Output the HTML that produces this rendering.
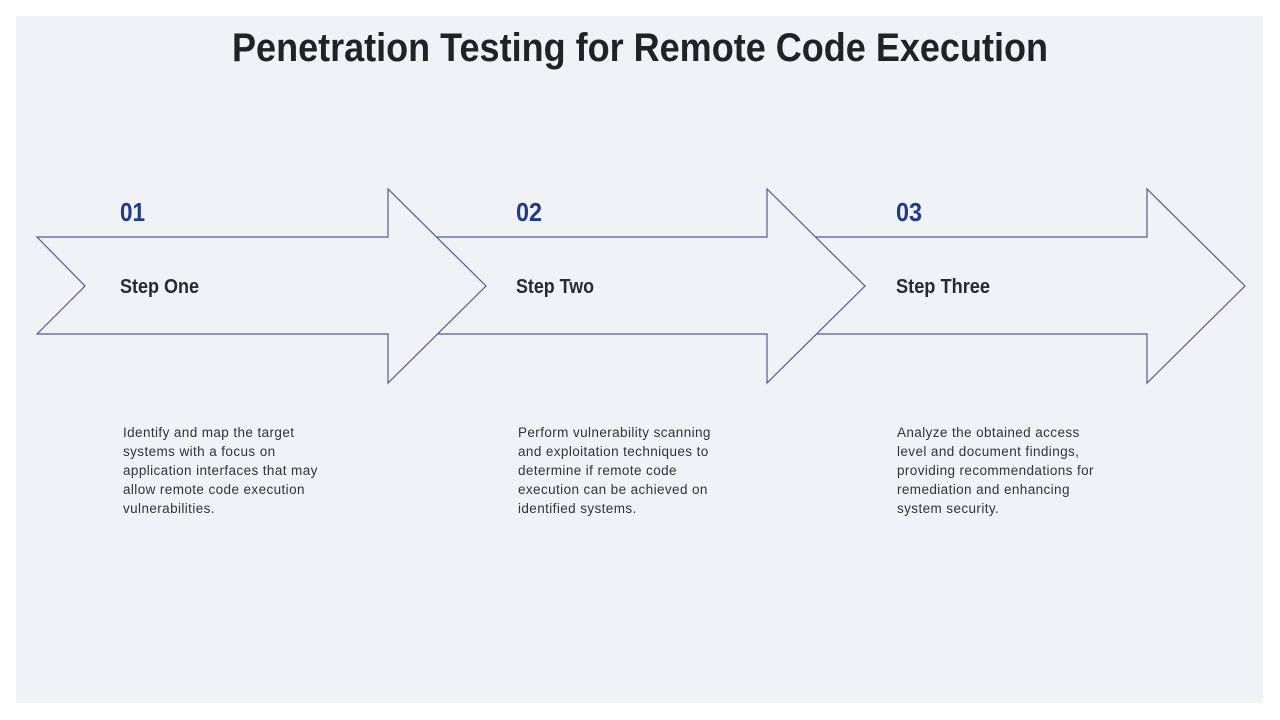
<!DOCTYPE html>
<html><head><meta charset="utf-8"><style>
html,body{margin:0;padding:0;background:#fff;}
svg{display:block;}
.n{font-family:"Liberation Sans Narrow","Liberation Sans",sans-serif;font-weight:bold;}
.b{font-family:"Liberation Sans",sans-serif;font-size:13.5px;fill:#333;letter-spacing:0.4px;}
</style></head><body>
<svg width="1280" height="720" viewBox="0 0 1280 720" xmlns="http://www.w3.org/2000/svg">
<rect x="0" y="0" width="1280" height="720" fill="#fff"/>
<rect x="16" y="16" width="1247" height="687" fill="#f0f2f6"/>
<text class="n" x="640" y="61" text-anchor="middle" font-size="40" fill="#222" textLength="816" lengthAdjust="spacingAndGlyphs">Penetration Testing for Remote Code Execution</text>
<g fill="#f0f2f6" stroke="#4d5c9c" stroke-width="1.2">
<polygon points="796,237 1147,237 1147,189 1245,286 1147,383 1147,334 796,334 844,286"/>
<polygon points="416,237 767,237 767,189 865,286 767,383 767,334 416,334 464,286"/>
<polygon points="37,237 388,237 388,189 486,286 388,383 388,334 37,334 85,286"/>
</g>
<g class="n" font-size="26" fill="#1f3a8a">
<text x="120" y="221" textLength="25" lengthAdjust="spacingAndGlyphs">01</text>
<text x="516" y="221" textLength="26" lengthAdjust="spacingAndGlyphs">02</text>
<text x="896" y="221" textLength="26" lengthAdjust="spacingAndGlyphs">03</text>
</g>
<g class="n" font-size="20" fill="#2a2a2e">
<text x="120" y="293" textLength="79" lengthAdjust="spacingAndGlyphs">Step One</text>
<text x="516" y="293" textLength="78" lengthAdjust="spacingAndGlyphs">Step Two</text>
<text x="896" y="293" textLength="94" lengthAdjust="spacingAndGlyphs">Step Three</text>
</g>
<g class="b">
<text x="123" y="437">Identify and map the target</text>
<text x="123" y="456">systems with a focus on</text>
<text x="123" y="475">application interfaces that may</text>
<text x="123" y="494">allow remote code execution</text>
<text x="123" y="513">vulnerabilities.</text>
<text x="518" y="437">Perform vulnerability scanning</text>
<text x="518" y="456">and exploitation techniques to</text>
<text x="518" y="475">determine if remote code</text>
<text x="518" y="494">execution can be achieved on</text>
<text x="518" y="513">identified systems.</text>
<text x="897" y="437">Analyze the obtained access</text>
<text x="897" y="456">level and document findings,</text>
<text x="897" y="475">providing recommendations for</text>
<text x="897" y="494">remediation and enhancing</text>
<text x="897" y="513">system security.</text>
</g>
</svg>
</body></html>
